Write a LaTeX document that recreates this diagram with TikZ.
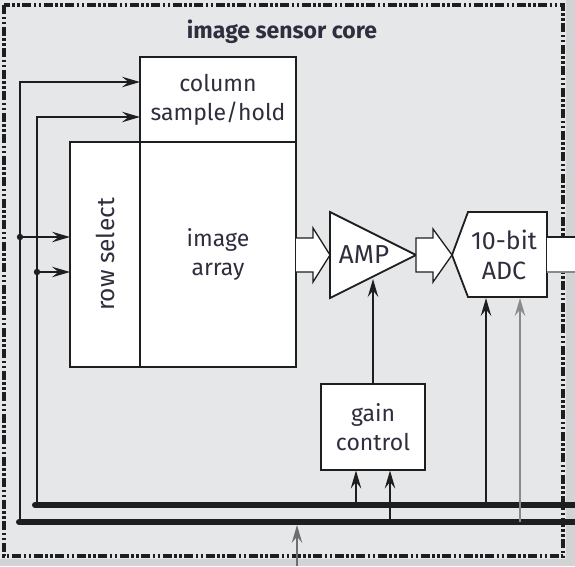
\documentclass[tikz,border=0pt]{standalone}
\usepackage{fontspec}
\setmainfont{Fira Sans}
\usetikzlibrary{arrows.meta}
\definecolor{bgin}{HTML}{E6E7E8}
\definecolor{bgshadow}{HTML}{D2D3D5}
\definecolor{txt}{HTML}{2E2E3E}
\definecolor{ln}{HTML}{1E1E1E}
\definecolor{lngray}{HTML}{8A8A8A}
\tikzset{
  blk/.style={draw=ln, line width=2.8pt, fill=white, inner sep=0pt, text=txt, align=center, font=\fontsize{23}{29}\selectfont},
  lbl/.style={text=txt, align=center, font=\fontsize{23}{29}\selectfont, inner sep=0pt},
  conn/.style={draw=ln, line width=1.4pt},
  arr/.style={conn, -{Stealth[length=18pt,width=10.5pt,inset=6.5pt]}},
  bus/.style={draw=ln, line width=6pt, line cap=round},
  fat/.style={fill=white, draw=ln, line width=1.3pt, line join=miter},
  dot/.style={fill=ln},
}
\begin{document}
\begin{tikzpicture}[x=1pt,y=-1pt]
\useasboundingbox (0,0) rectangle (575,566);
% background
\fill[bgshadow] (0,0) rectangle (575,566);
\fill[bgin] (0,0) rectangle (566,559);
% frame
\draw[ln, line width=3.5pt, dash pattern=on 9pt off 2.5pt on 2.5pt off 2.5pt on 2.5pt off 2.5pt] (4,5) rectangle (563,556);
\node[font=\bfseries\fontsize{23}{26}\selectfont, text=txt] (title) at (282,32) {image sensor core};

% blocks
\node[blk, minimum width=156pt, minimum height=85pt] (colsh) at (218,99.5) {column\\sample/hold};
\node[blk, minimum width=70pt, minimum height=225pt] (rowsel) at (105,254.5) {};
\node[lbl, rotate=90, font=\fontsize{24.5}{29}\selectfont] (rowseltxt) at (rowsel.center) {row select};
\node[blk, minimum width=156pt, minimum height=225pt] (imgarr) at (218,254.5) {image\\array};
\node[blk, minimum width=104pt, minimum height=86pt] (gain) at (373,427) {gain\\control};

% fat arrow image array -> amp
\path[fat] (296,238) -- (313,238) -- (313,228) -- (330,255) -- (313,282) -- (313,272) -- (296,272);
% AMP triangle
\coordinate (ampA) at (330,212);
\coordinate (ampB) at (330,298);
\coordinate (ampT) at (416,255);
\filldraw[fill=white, draw=ln, line width=1.8pt, line join=miter] (ampA) -- (ampT) -- (ampB) -- cycle;
\node[lbl, font=\fontsize{26}{30}\selectfont] (amp) at (364,255) {AMP};
% fat arrow amp -> adc
\path[fat] (416,238) -- (433,238) -- (433,229) -- (452,255) -- (433,282) -- (433,272) -- (416,272) -- cycle;
% ADC
\filldraw[fill=white, draw=ln, line width=1.8pt, line join=miter] (468,212) -- (547,212) -- (547,297) -- (468,297) -- (452,255) -- cycle;
\node[lbl, font=\fontsize{25}{30}\selectfont] (adc) at (504,255) {10-bit\\ADC};
% output fat arrow
\fill[white] (547,237) rectangle (575,272);
\draw[ln, line width=1.3pt] (547,237) -- (575,237);
\draw[lngray, line width=1.3pt] (547,272) -- (575,272);

% buses
\coordinate (busLo) at (19,522);
\coordinate (busUp) at (35,505);
\draw[bus] (busLo) -- (580,522);
\draw[bus] (busUp) -- (580,505);

% left control lines
\coordinate (cs1) at (140,82);
\coordinate (cs2) at (140,117);
\coordinate (rs1) at (70,237);
\coordinate (rs2) at (70,272);
\draw[arr] (20,522) |- (cs1);
\draw[arr] (37,505) |- (cs2);
\fill[dot] (20,237) circle (3.2pt);
\fill[dot] (37,272) circle (3.2pt);
\draw[arr] (20,237) -- (rs1);
\draw[arr] (37,272) -- (rs2);

% gain control
\draw[arr] (gain.north) -- (373,279);
\draw[arr] (356,505) -- (356,470.5);
\draw[arr] (390,522) -- (390,470.5);
% ADC inputs
\draw[arr] (486,505) -- (486,298);
\draw[arr, draw=lngray] (520,522) -- (520,298);
% external input
\draw[arr, draw=lngray!80!black] (297,566) -- (297,525);
\end{tikzpicture}
\end{document}
